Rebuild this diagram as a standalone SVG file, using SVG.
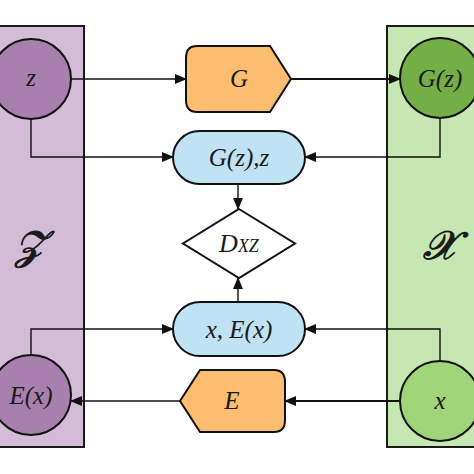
<svg xmlns="http://www.w3.org/2000/svg" width="474" height="474" viewBox="0 0 474 474">
<defs>
<marker id="ah" markerWidth="12" markerHeight="10" refX="11" refY="5" orient="auto" markerUnits="userSpaceOnUse">
<path d="M0,0 L12,5 L0,10 Z" fill="#111"/>
</marker>
</defs>
<style>
.panel{stroke:#1a1a1a;stroke-width:2}
.node{stroke:#111;stroke-width:2}
.c{fill:none;stroke:#111;stroke-width:1.4}
.ct{fill:none;stroke:#111;stroke-width:2.2}
.t{font-family:"Liberation Serif","DejaVu Serif",serif;font-style:italic;fill:#1a1a1a;text-anchor:middle}
.s{stroke:#1a1a1a;stroke-width:1.1}
</style>
<rect width="474" height="474" fill="#ffffff"/>
<g id="panel-Z">
<rect class="panel" x="-5" y="26" width="89" height="421" fill="#d3bcd5"/>
<text class="t s" x="30" y="259" font-size="40">𝒵</text>
</g>
<g id="panel-X">
<rect class="panel" x="387" y="26" width="95" height="421" fill="#c6e6b2"/>
<text class="t s" x="440" y="259" font-size="40">𝒳</text>
</g>
<g id="connectors">
<path class="c" d="M71,79 H186" marker-end="url(#ah)"/>
<path class="ct" d="M291,79 H400" marker-end="url(#ah)"/>
<path class="c" d="M31,118 V157 H173" marker-end="url(#ah)"/>
<path class="c" d="M440,118 V157 H305" marker-end="url(#ah)"/>
<path class="c" d="M238,184 V209" marker-end="url(#ah)"/>
<path class="c" d="M238,302 V278" marker-end="url(#ah)"/>
<path class="c" d="M31,355 V329 H173" marker-end="url(#ah)"/>
<path class="c" d="M440,362 V329 H305" marker-end="url(#ah)"/>
<path class="ct" d="M400,401 H285" marker-end="url(#ah)"/>
<path class="c" d="M180,401 H71" marker-end="url(#ah)"/>
</g>
<g id="node-z">
<circle class="node" cx="31" cy="79" r="40" fill="#a880ad"/>
<text class="t" x="31" y="86" font-size="25">z</text>
</g>
<g id="node-G">
<path class="node" d="M197,46 H270 L291,79 L270,112 H197 Q186,112 186,100 V58 Q186,46 197,46 Z" fill="#fbbd6f"/>
<text class="t" x="239" y="87" font-size="25">G</text>
</g>
<g id="node-Gz">
<circle class="node" cx="440" cy="78" r="40" fill="#74ae46"/>
<text class="t" x="440" y="87" font-size="25">G(z)</text>
</g>
<g id="node-Gzz">
<rect class="node" x="173" y="131" width="132" height="53" rx="26.5" fill="#c0e2f5"/>
<text class="t" x="239" y="166" font-size="25">G(z),z</text>
</g>
<g id="node-D">
<path class="node" d="M239,209 L295,243.5 L239,278 L183,243.5 Z" fill="#ffffff"/>
<text class="t" x="239" y="252" font-size="26">D<tspan font-size="18">XZ</tspan></text>
</g>
<g id="node-xEx">
<rect class="node" x="173" y="302" width="132" height="54" rx="27" fill="#c0e2f5"/>
<text class="t" x="239" y="338" font-size="25">x, E(x)</text>
</g>
<g id="node-E">
<path class="node" d="M200,370 H274 Q285,370 285,382 V420 Q285,432 274,432 H200 L180,401 Z" fill="#fbbd6f"/>
<text class="t" x="232" y="409" font-size="25">E</text>
</g>
<g id="node-Ex">
<circle class="node" cx="31" cy="395" r="40" fill="#a880ad"/>
<text class="t" x="31" y="404" font-size="25">E(x)</text>
</g>
<g id="node-x">
<circle class="node" cx="440" cy="401" r="40" fill="#a0d479"/>
<text class="t" x="440" y="409" font-size="25">x</text>
</g>
</svg>
